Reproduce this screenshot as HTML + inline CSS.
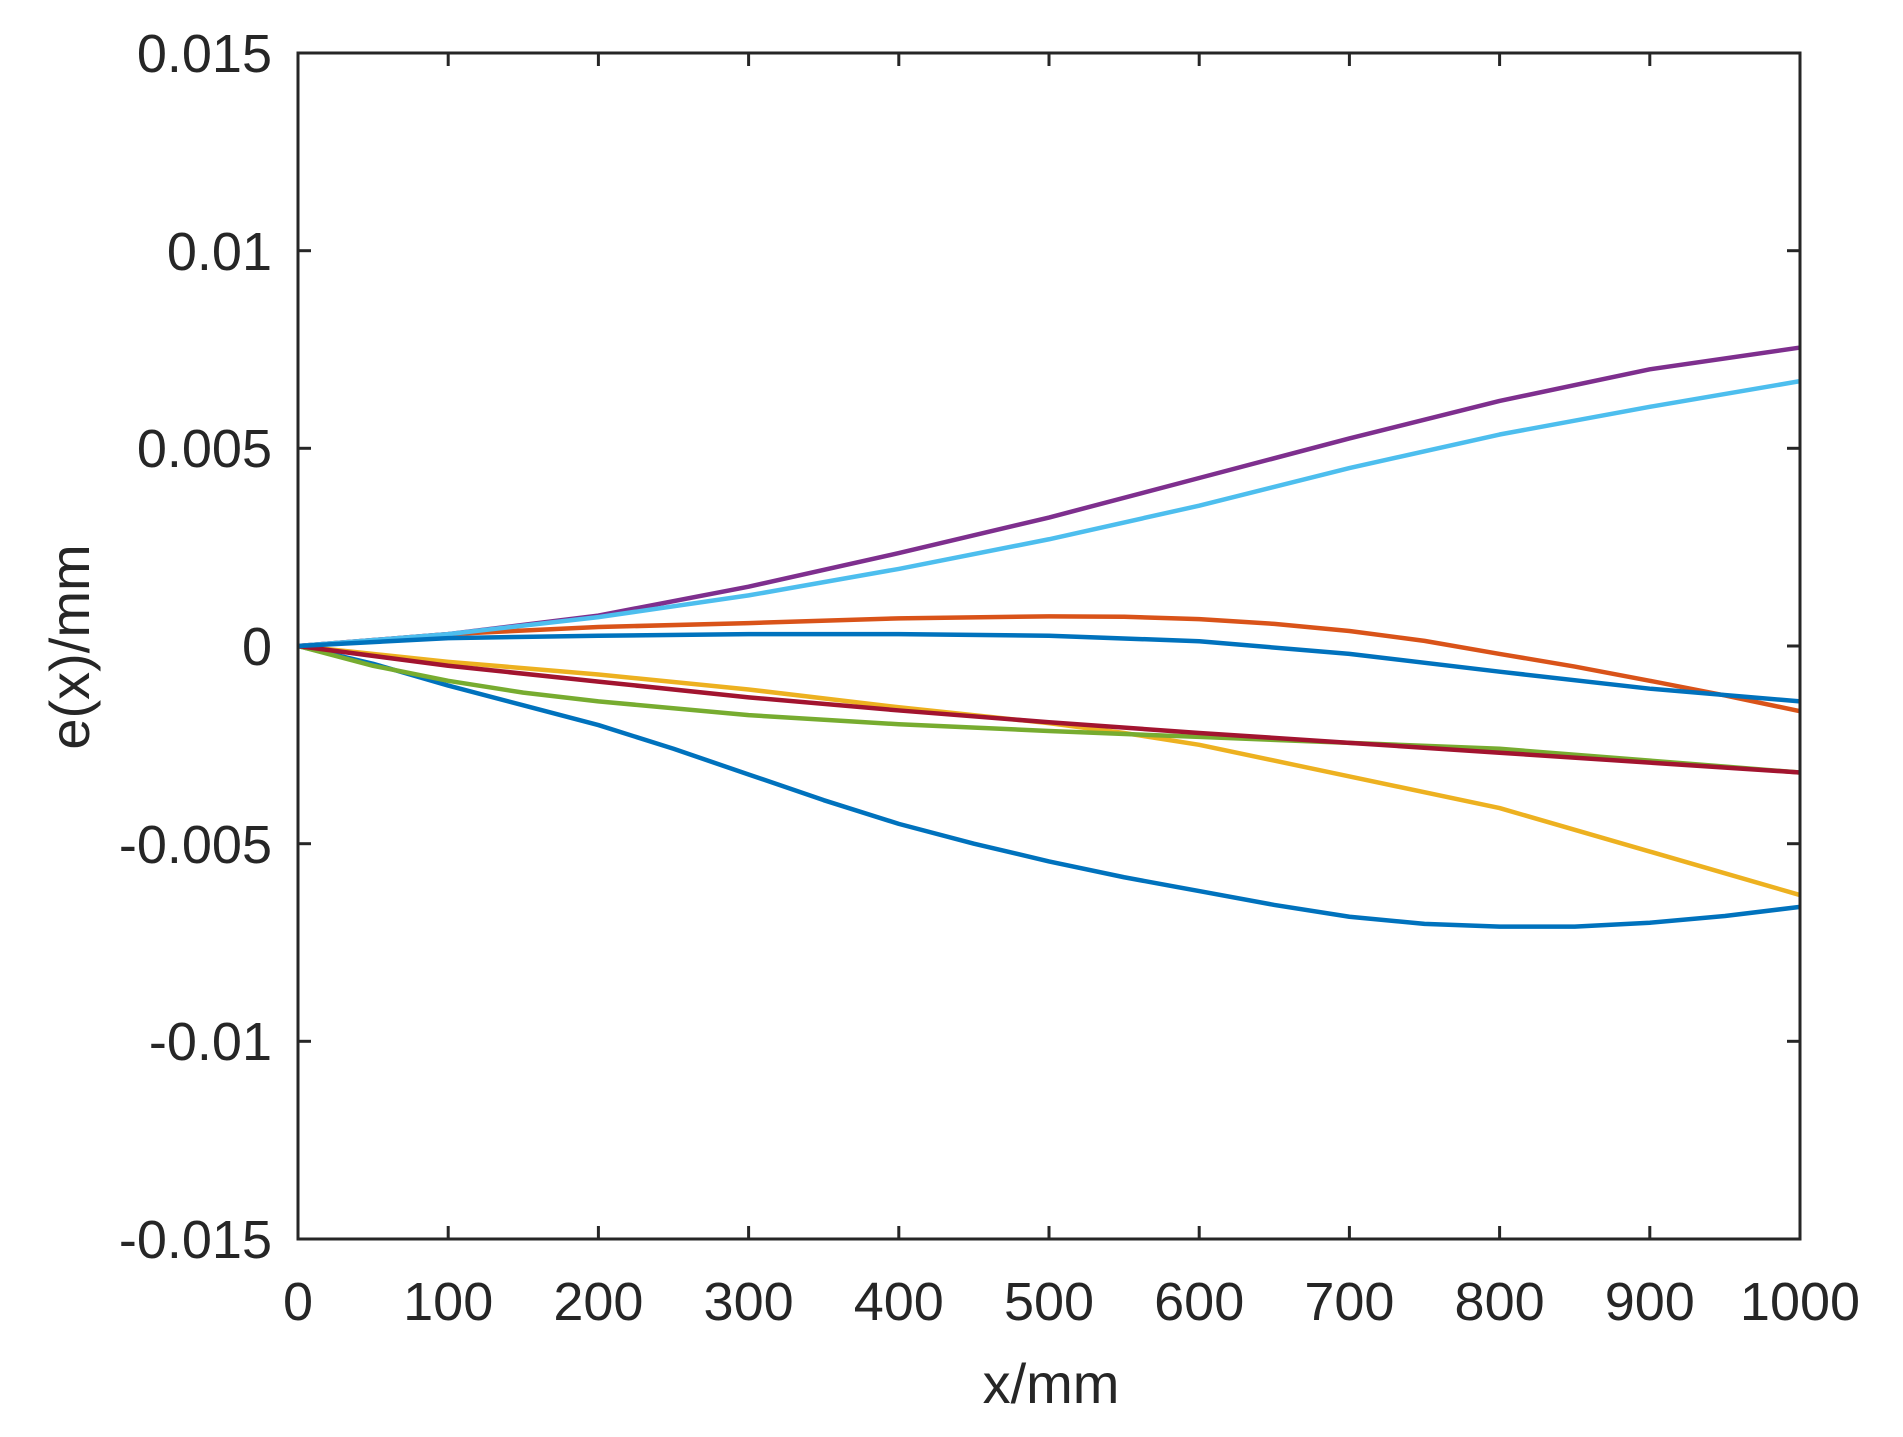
<!DOCTYPE html>
<html><head><meta charset="utf-8"><style>
html,body{margin:0;padding:0;background:#fff;}
svg{display:block;}
text{font-family:"Liberation Sans",sans-serif;fill:#262626;}
</style></head><body>
<svg width="1903" height="1437" viewBox="0 0 1903 1437" xmlns="http://www.w3.org/2000/svg">
<rect width="1903" height="1437" fill="#fff"/>
<g stroke="#262626" stroke-width="3">
<line x1="448.2" y1="1239" x2="448.2" y2="1226"/><line x1="598.4" y1="1239" x2="598.4" y2="1226"/><line x1="748.6" y1="1239" x2="748.6" y2="1226"/><line x1="898.8" y1="1239" x2="898.8" y2="1226"/><line x1="1049" y1="1239" x2="1049" y2="1226"/><line x1="1199.2" y1="1239" x2="1199.2" y2="1226"/><line x1="1349.4" y1="1239" x2="1349.4" y2="1226"/><line x1="1499.6" y1="1239" x2="1499.6" y2="1226"/><line x1="1649.8" y1="1239" x2="1649.8" y2="1226"/>
<line x1="448.2" y1="53" x2="448.2" y2="66"/><line x1="598.4" y1="53" x2="598.4" y2="66"/><line x1="748.6" y1="53" x2="748.6" y2="66"/><line x1="898.8" y1="53" x2="898.8" y2="66"/><line x1="1049" y1="53" x2="1049" y2="66"/><line x1="1199.2" y1="53" x2="1199.2" y2="66"/><line x1="1349.4" y1="53" x2="1349.4" y2="66"/><line x1="1499.6" y1="53" x2="1499.6" y2="66"/><line x1="1649.8" y1="53" x2="1649.8" y2="66"/>
<line x1="298" y1="250.7" x2="311" y2="250.7"/><line x1="298" y1="448.3" x2="311" y2="448.3"/><line x1="298" y1="646" x2="311" y2="646"/><line x1="298" y1="843.7" x2="311" y2="843.7"/><line x1="298" y1="1041.3" x2="311" y2="1041.3"/>
<line x1="1800" y1="250.7" x2="1787" y2="250.7"/><line x1="1800" y1="448.3" x2="1787" y2="448.3"/><line x1="1800" y1="646" x2="1787" y2="646"/><line x1="1800" y1="843.7" x2="1787" y2="843.7"/><line x1="1800" y1="1041.3" x2="1787" y2="1041.3"/>
</g>
<g transform="translate(298,646) scale(1.502,-3.953)" fill="none" stroke-width="4.5" stroke-linejoin="round">
<polyline vector-effect="non-scaling-stroke" stroke="#0072BD" points="0,0 50,-4.5 100,-10 150,-15 200,-20 250,-26 300,-32.5 350,-39 400,-45 450,-50 500,-54.5 550,-58.5 600,-62 650,-65.5 700,-68.5 750,-70.3 800,-71 850,-71 900,-70 950,-68.3 1000,-66"/>
<polyline vector-effect="non-scaling-stroke" stroke="#D95319" points="0,0 100,3 200,4.8 300,5.8 400,7 500,7.5 550,7.4 600,6.8 650,5.6 700,3.8 750,1.3 800,-2 850,-5.2 900,-8.8 950,-12.5 1000,-16.5"/>
<polyline vector-effect="non-scaling-stroke" stroke="#EDB120" points="0,0 100,-4 200,-7.2 300,-11 400,-15.5 500,-19.5 550,-22 600,-25 700,-33 800,-41 900,-52 1000,-63"/>
<polyline vector-effect="non-scaling-stroke" stroke="#7E2F8E" points="0,0 100,3 200,7.7 300,15 400,23.5 500,32.5 600,42.5 700,52.5 800,62 900,70 1000,75.5"/>
<polyline vector-effect="non-scaling-stroke" stroke="#77AC30" points="0,0 50,-5 100,-8.8 150,-11.8 200,-14 300,-17.5 400,-19.8 500,-21.5 600,-23 700,-24.5 800,-26 900,-29 1000,-32"/>
<polyline vector-effect="non-scaling-stroke" stroke="#4DBEEE" points="0,0 100,3 200,7.3 300,12.8 400,19.5 500,27 600,35.5 700,45 800,53.5 900,60.5 1000,67"/>
<polyline vector-effect="non-scaling-stroke" stroke="#A2142F" points="0,0 100,-5 200,-9 300,-13 400,-16.3 500,-19.3 600,-22 700,-24.5 800,-27 900,-29.5 1000,-32"/>
<polyline vector-effect="non-scaling-stroke" stroke="#0072BD" points="0,0 100,2 200,2.6 300,3 400,3 500,2.6 600,1.2 700,-2 800,-6.5 900,-10.8 1000,-14"/>
</g>
<rect x="298" y="53" width="1502" height="1186" fill="none" stroke="#262626" stroke-width="3"/>
<g font-size="54" text-anchor="end">
<text x="272" y="72">0.015</text>
<text x="272" y="270">0.01</text>
<text x="272" y="467">0.005</text>
<text x="272" y="665">0</text>
<text x="272" y="863">-0.005</text>
<text x="272" y="1060">-0.01</text>
<text x="272" y="1258">-0.015</text>
</g>
<g font-size="54" text-anchor="middle">
<text x="298" y="1320">0</text><text x="448.2" y="1320">100</text><text x="598.4" y="1320">200</text><text x="748.6" y="1320">300</text><text x="898.8" y="1320">400</text><text x="1049" y="1320">500</text><text x="1199.2" y="1320">600</text><text x="1349.4" y="1320">700</text><text x="1499.6" y="1320">800</text><text x="1649.8" y="1320">900</text><text x="1800" y="1320">1000</text>
</g>
<text x="1051" y="1403" font-size="56" text-anchor="middle">x/mm</text>
<text transform="translate(89,647) rotate(-90)" font-size="56" text-anchor="middle">e(x)/mm</text>
</svg>
</body></html>
